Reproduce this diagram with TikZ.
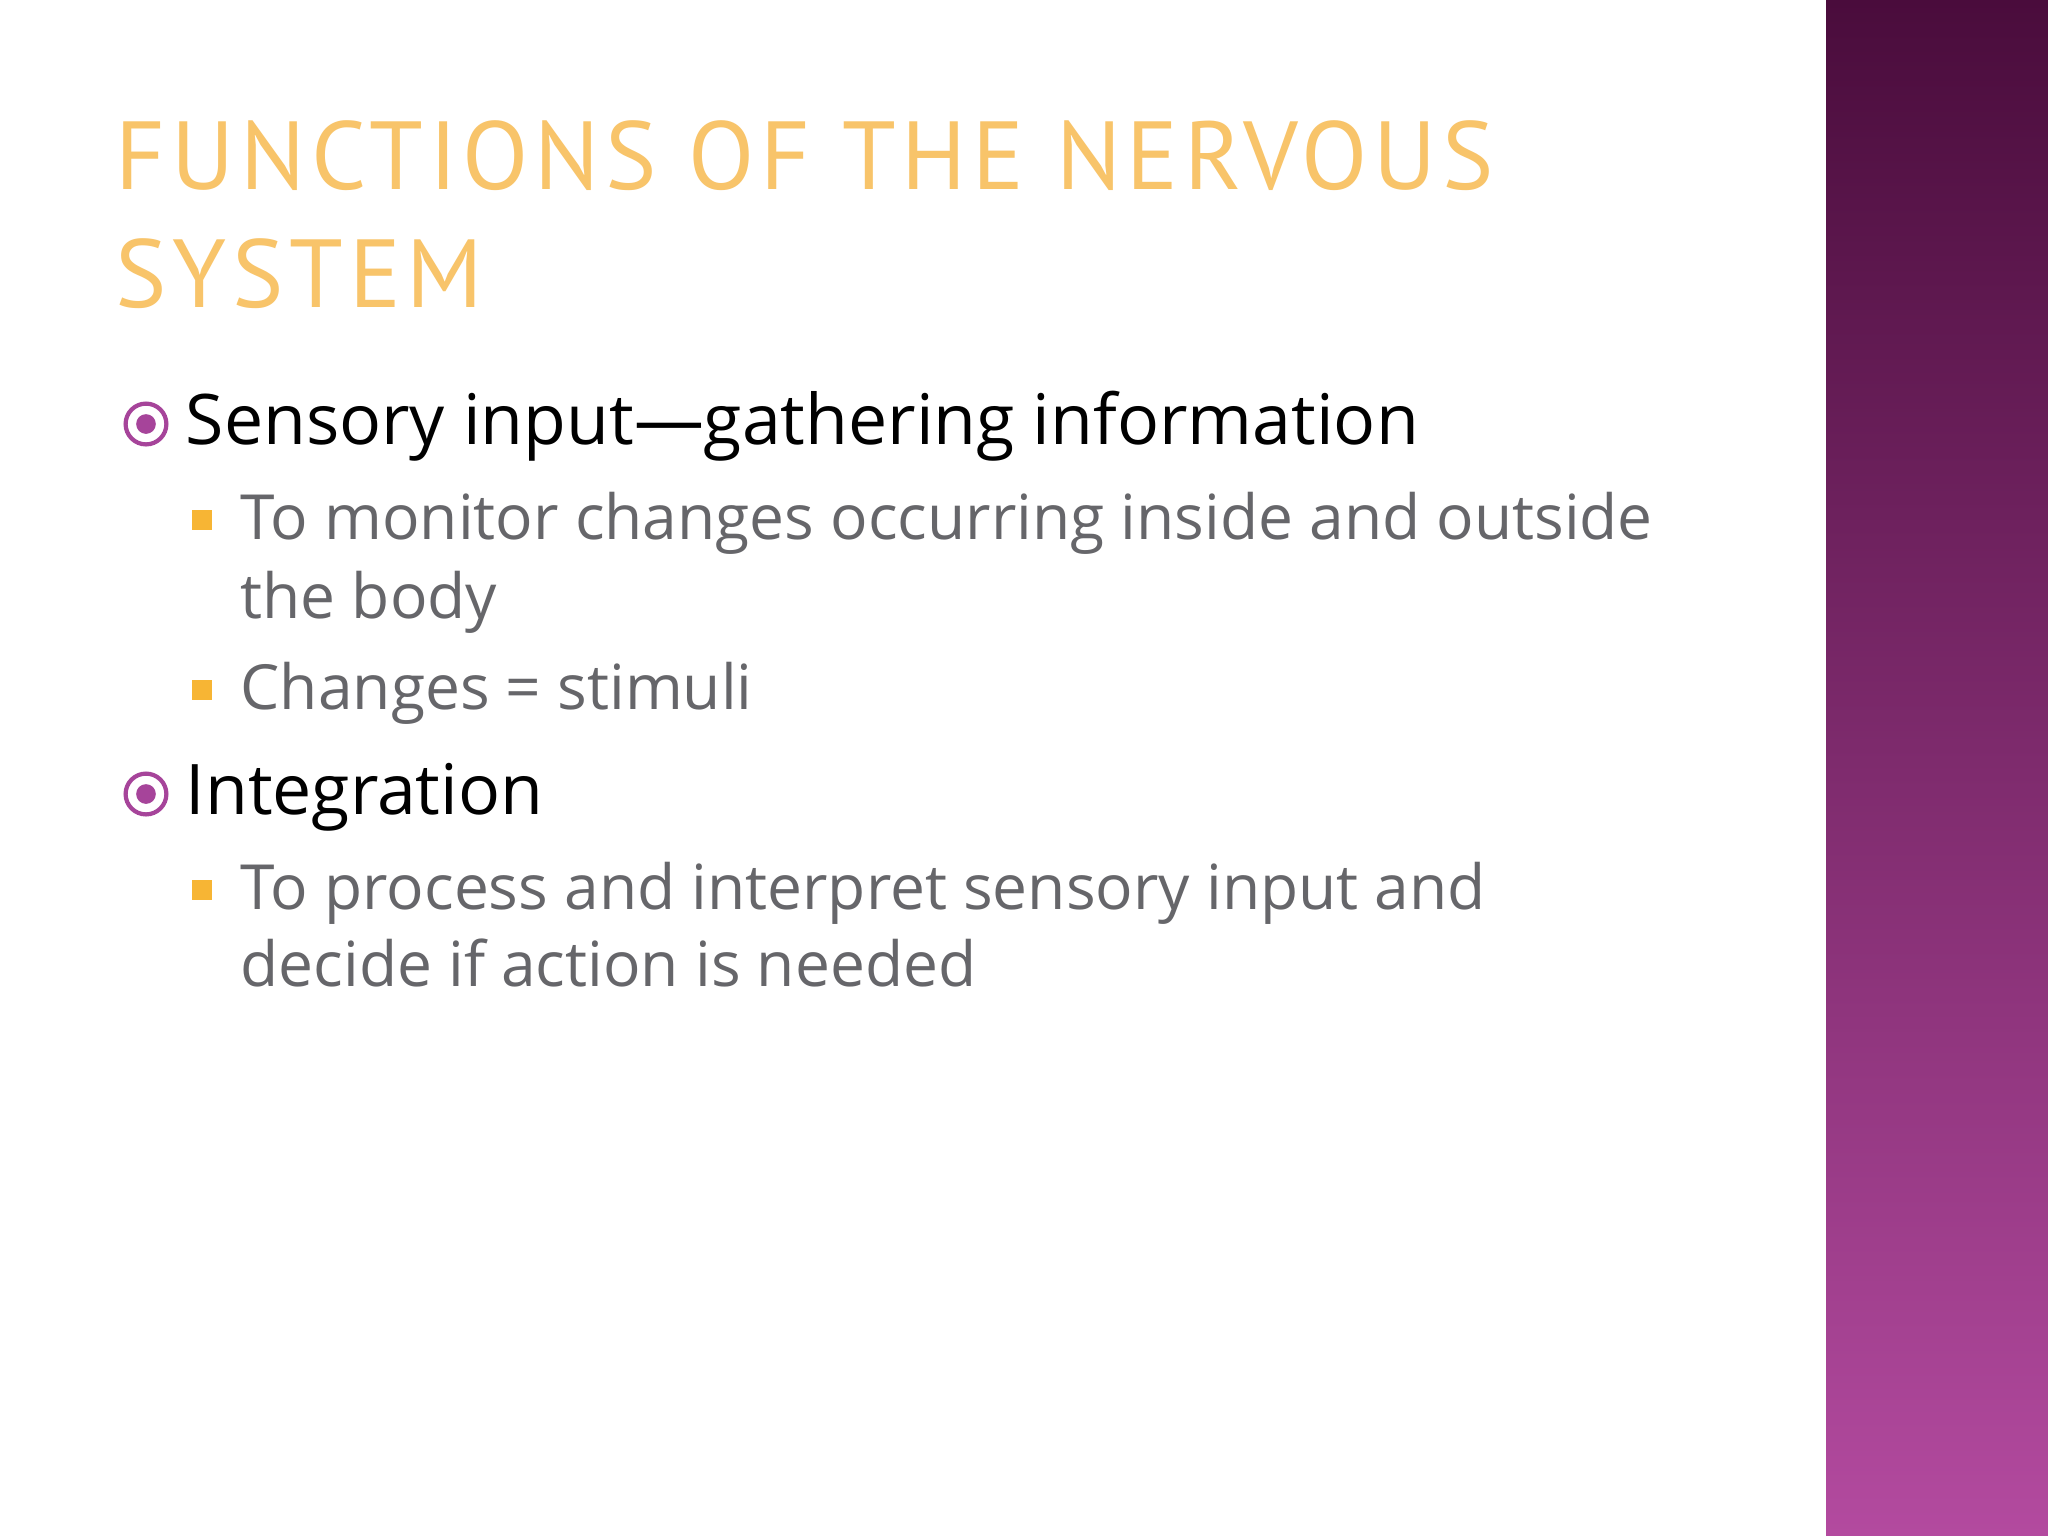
\documentclass[tikz,border=0pt]{standalone}
\usepackage{fontspec}
\setmainfont{Open Sans}
\newfontfamily\titlefont[LetterSpace=6]{PT Sans}
\definecolor{barTop}{HTML}{4A0C3C}
\definecolor{barBot}{HTML}{B34A9F}
\definecolor{bulpurple}{HTML}{A6449A}
\definecolor{bulorange}{HTML}{F7B534}
\definecolor{subgray}{HTML}{66666A}
\definecolor{titleA}{HTML}{F8C46A}
\begin{document}
\begin{tikzpicture}[x={(0.01cm,0)},y={(0,-0.01cm)},
  lvlone/.style={anchor=base west,inner sep=0pt,font=\fontsize{19.85}{24}\selectfont,text=black},
  lvltwo/.style={anchor=base west,inner sep=0pt,font=\fontsize{17.7}{22}\selectfont,text=subgray},
  ttl/.style={anchor=base west,inner sep=0pt,font=\titlefont\fontsize{27.5}{30}\selectfont,text=titleA},
  sq/.style={fill=bulorange,draw=none,minimum size=5.5pt,inner sep=0pt}]
\useasboundingbox (0,0) rectangle (2048,1536);
\fill[white] (0,0) rectangle (2048,1536);
\shade[top color=barTop,bottom color=barBot] (1826,0) rectangle (2048,1536);
\node[ttl] (t1) at (115,189) {FUNCTIONS OF THE NERVOUS};
\node[ttl] (t2) at (115,307) {SYSTEM};
\foreach \yy in {444,814}{
  \draw[bulpurple,line width=1.2pt] (146,\yy-20) circle (5.8pt);
  \fill[bulpurple] (146,\yy-20) circle (2.8pt);
}
\node[lvlone] (s1) at (185,444) {Sensory input—gathering information};
\node[lvlone] (s2) at (185,814) {Integration};
\foreach \yy in {539,709,909}{ \node[sq] at (202,\yy-19) {}; }
\node[lvltwo] (a1) at (240,539) {To monitor changes occurring inside and outside};
\node[lvltwo] (a2) at (240,618) {the body};
\node[lvltwo] (a3) at (240,709) {Changes = stimuli};
\node[lvltwo] (a4) at (240,909) {To process and interpret sensory input and};
\node[lvltwo] (a5) at (240,986) {decide if action is needed};
\end{tikzpicture}
\end{document}
